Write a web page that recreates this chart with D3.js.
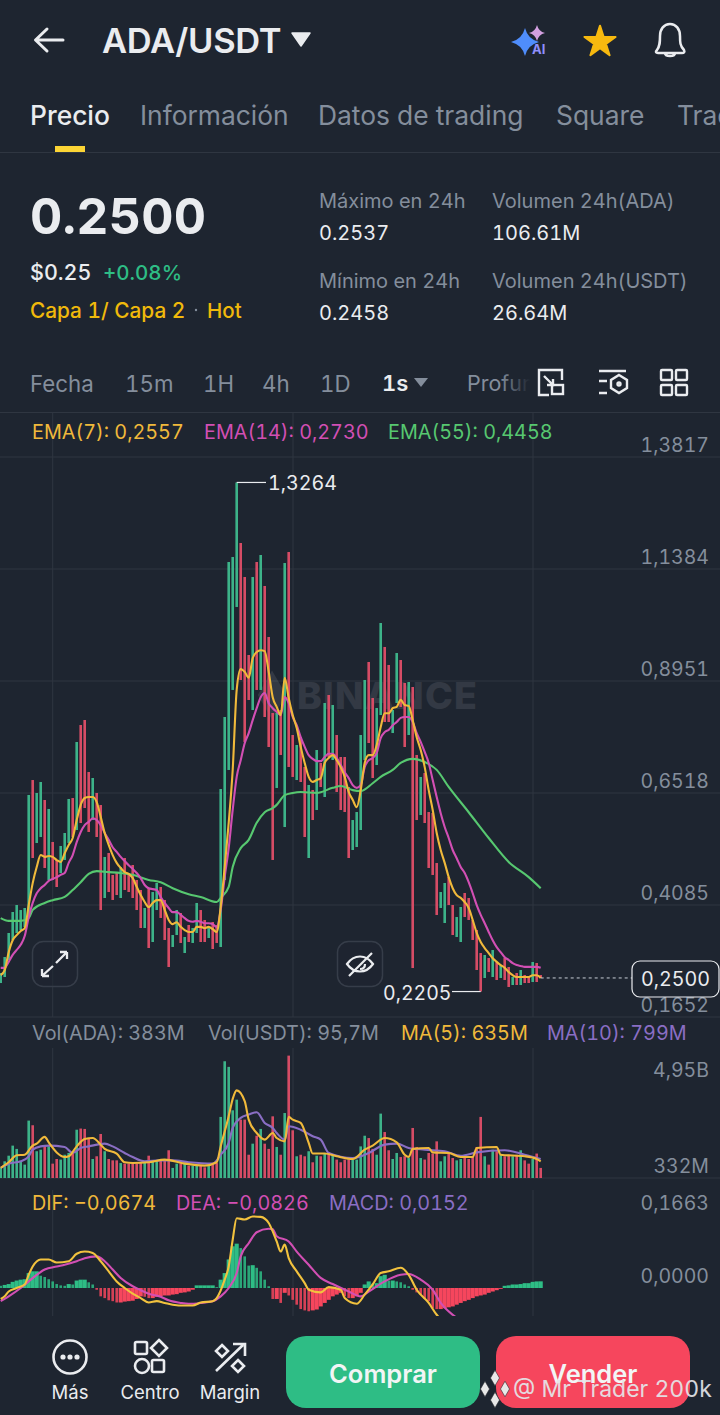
<!DOCTYPE html>
<html><head><meta charset="utf-8">
<script src="https://cdn.jsdelivr.net/npm/d3@7"></script>
<style>
html,body{margin:0;padding:0;background:#1e2530;width:720px;height:1415px;overflow:hidden}
svg{display:block}
text{font-family:Inter,"Noto Sans",sans-serif;font-variant-numeric:tabular-nums}
</style></head><body>
<script>
// ---------- DATA ----------
const priceTicks=[1.3817,1.1384,0.8951,0.6518,0.4085,0.1652];
const volTicks=[4.95,0.332];
const macdTicks=[0.1663,0];
const candleUp=[1,1,1,1,1,1,1,1,0,1,1,0,1,0,0,1,1,1,0,1,0,0,0,1,0,0,1,0,0,0,1,0,0,0,0,0,1,0,1,1,0,0,0,1,1,0,1,0,1,1,0,0,1,0,0,1,1,1,1,1,0,0,0,1,0,1,0,0,0,1,0,1,0,0,1,0,0,1,0,1,0,1,0,1,0,0,0,0,1,1,1,1,0,0,1,1,0,0,1,1,0,0,1,0,0,1,0,0,0,0,1,1,0,0,1,1,0,0,0,0,0,1,0,1,0,1,0,0,1,0,1,0,0,1,0,0];
const candleHigh=[.2608,.2955,.3477,.3933,.4085,.3976,.4020,.6475,.6800,.6518,.6757,.6366,.6171,.5454,.5063,.5367,.5649,.6388,.6409,.7626,.7995,.8104,.6974,.6844,.6518,.6257,.5128,.5215,.4737,.4780,.4911,.5106,.4737,.4954,.4628,.4411,.4020,.4454,.4367,.4563,.4476,.4194,.3585,.3433,.3976,.3911,.3390,.3651,.3585,.4129,.3976,.3759,.3585,.3716,.3651,.6605,.8169,1.1536,1.1645,1.3264,1.1949,1.1210,.9516,1.1210,1.1536,1.1688,1.1015,.9907,.8256,.8256,.8321,1.1514,1.1753,.7778,.7561,.7735,.7083,.6692,.6583,.7452,.7170,.8473,.8647,.8430,.7778,.7300,.7300,.6648,.5931,.6105,.7778,.8973,.9364,.8582,.8365,1.0211,.9690,.9299,.8321,.9559,.9407,.8908,.8929,.8821,.7344,.6866,.6952,.6105,.6084,.4997,.4367,.4563,.4693,.4085,.3824,.4042,.4346,.4237,.3759,.3542,.3042,.2999,.2934,.3107,.2847,.2782,.2934,.2738,.2521,.2608,.2673,.2564,.2521,.2847,.2825,.2564];
const candleLow=[.2390,.2521,.2890,.3325,.3477,.3542,.3607,.3824,.5106,.5432,.5562,.4889,.4628,.4628,.4476,.4780,.5063,.5432,.5562,.5714,.5866,.6192,.5671,.5931,.5562,.3976,.4237,.4367,.4194,.4302,.4237,.4411,.4367,.4237,.3976,.3585,.3585,.3151,.3281,.3976,.3803,.3325,.2738,.3173,.3433,.3260,.3042,.3281,.3260,.3477,.3281,.3281,.3368,.3129,.3260,.3173,.4628,.7018,.8756,1.0559,.8973,.7626,.8538,.8321,.8756,.8756,.8169,.7517,.5063,.6627,.7344,.5779,.7083,.6866,.6800,.6757,.5562,.5106,.5931,.6149,.6648,.6431,.7300,.7235,.6540,.6149,.6105,.5106,.5280,.5345,.5714,.7235,.7604,.6844,.7126,.8212,.8060,.8060,.7821,.8473,.8386,.7517,.7778,.2716,.5931,.6040,.5866,.4889,.4737,.3868,.4020,.3694,.4085,.3433,.3390,.3281,.3824,.3759,.3325,.2673,.2205,.2499,.2630,.2521,.2456,.2499,.2456,.2304,.2347,.2347,.2347,.2390,.2390,.2412,.2412,.2499];
const ema7=[.256,.267,.306,.332,.343,.352,.358,.408,.456,.491,.517,.513,.515,.513,.506,.502,.521,.539,.554,.593,.626,.641,.643,.643,.632,.600,.565,.539,.517,.500,.489,.480,.476,.467,.448,.430,.415,.404,.413,.419,.419,.398,.376,.367,.371,.361,.354,.350,.350,.361,.361,.358,.361,.356,.350,.404,.491,.587,.702,.876,.921,.915,.902,.945,.958,.962,.960,.915,.860,.839,.821,.902,.858,.821,.793,.752,.717,.687,.676,.680,.684,.717,.728,.734,.723,.708,.687,.654,.637,.621,.658,.717,.734,.734,.756,.795,.825,.825,.836,.839,.854,.843,.841,.810,.773,.745,.708,.658,.615,.565,.528,.500,.469,.445,.430,.424,.415,.402,.376,.348,.328,.315,.304,.293,.285,.278,.272,.263,.256,.252,.252,.252,.252,.256,.256,.250];
const ema14=[.272,.272,.285,.300,.311,.322,.341,.382,.413,.434,.445,.452,.461,.465,.469,.474,.478,.500,.517,.545,.567,.582,.589,.597,.593,.582,.565,.550,.534,.524,.513,.504,.495,.487,.478,.467,.452,.445,.443,.441,.426,.413,.402,.393,.393,.387,.380,.374,.372,.374,.372,.369,.369,.367,.361,.398,.469,.532,.615,.687,.723,.760,.782,.810,.836,.860,.869,.847,.836,.828,.821,.860,.847,.817,.799,.773,.752,.734,.726,.721,.721,.730,.737,.737,.728,.713,.697,.684,.669,.663,.669,.708,.723,.728,.739,.771,.784,.789,.799,.806,.815,.817,.817,.806,.782,.763,.741,.717,.680,.643,.608,.578,.554,.528,.510,.491,.478,.458,.434,.408,.387,.369,.350,.332,.317,.306,.295,.289,.282,.278,.276,.274,.274,.274,.274,.272];
const ema55Idx=[0,2,5,7,8,11,13,16,18,20,22,24,27,30,33,37,40,43,47,50,54,55,57,58,60,62,64,66,68,69,71,73,75,79,83,85,88,90,93,95,98,100,103,106,109,112,117,122,127,132,135];
const ema55=[.380,.374,.374,.380,.398,.413,.419,.426,.441,.458,.476,.482,.480,.478,.474,.463,.458,.445,.432,.426,.415,.424,.448,.491,.532,.550,.587,.610,.619,.626,.647,.652,.654,.652,.663,.667,.658,.656,.673,.687,.702,.717,.726,.719,.702,.665,.610,.554,.502,.469,.445];
const volume=[.52,.86,1.15,1.67,1.50,.86,.69,2.96,2.72,1.38,1.46,1.67,1.63,.74,.98,.95,1.20,1.29,1.29,2.49,2.55,2.53,2.06,.98,1.12,2.27,1.38,.98,.91,.91,.77,.74,.74,.74,.74,.77,.81,1.15,.91,.91,.98,.91,1.43,.52,.74,.74,.81,.64,.64,.64,.64,.55,.64,.77,.77,3.15,6.02,5.73,3.49,4.04,3.01,3.01,1.20,1.77,2.18,2.53,1.77,1.50,3.18,1.60,1.20,3.35,6.31,2.46,1.12,1.20,1.12,1.38,.81,1.15,1.12,1.29,1.32,1.20,.95,.81,.95,.95,.95,.95,1.63,2.18,2.06,1.50,1.20,3.32,2.37,1.43,.98,1.29,1.08,1.12,1.03,2.58,1.60,1.03,.95,1.29,1.26,1.89,.86,1.12,1.26,1.03,.91,.98,1.03,.98,1.12,1.60,3.15,1.12,.69,1.46,1.38,1.20,1.12,1.20,1.12,1.20,1.43,.91,.74,.98,1.26,.52];
const ma5Idx=[0,2,4,6,8,9,11,12,14,16,17,19,21,23,25,26,29,31,33,37,41,46,51,54,55,57,58,59,61,62,64,66,68,69,71,72,73,75,77,78,81,84,88,91,93,96,99,101,102,103,107,108,112,115,118,119,124,125,131,134,135];
const ma5=[.52,.81,1.17,1.20,1.67,1.77,2.12,1.84,1.32,1.08,1.12,1.63,2.01,2.06,1.72,1.50,1.26,.81,.77,.81,.95,.74,.64,.81,1.63,3.18,4.08,4.52,3.96,3.01,2.32,1.98,2.32,2.06,1.89,3.15,3.01,2.84,1.81,1.26,1.26,1.12,.98,1.46,1.67,2.06,1.84,1.20,1.08,1.50,1.55,1.32,1.29,1.08,1.08,1.55,1.60,1.20,1.12,.98,.86];
const ma10Idx=[0,2,5,7,8,10,12,16,18,20,22,26,28,31,33,36,40,43,47,53,55,57,58,60,62,64,66,68,69,71,72,75,78,80,82,88,92,96,99,102,106,111,115,119,126,131,135];
const ma10=[.52,.74,.86,1.12,1.46,1.63,1.67,1.60,1.29,1.55,1.63,1.77,1.63,1.29,1.08,.86,.91,.91,.81,.74,1.20,1.81,2.58,3.10,3.27,3.39,2.84,2.58,2.32,1.98,2.67,2.49,2.15,1.98,1.29,1.03,1.29,1.72,1.77,1.55,1.46,1.38,1.15,1.32,1.43,1.20,.98];
const macdHist=[.005,.007,.009,.014,.017,.019,.020,.034,.038,.038,.028,.025,.020,.015,.009,.006,.005,.009,.008,.017,.019,.019,.013,.008,-.004,-.019,-.023,-.028,-.030,-.033,-.033,-.031,-.030,-.029,-.025,-.019,-.020,-.023,-.023,-.020,-.019,-.017,-.017,-.015,-.014,-.011,-.010,-.008,-.004,.006,.006,.006,.006,.006,.002,.019,.034,.065,.095,.101,.091,.072,.051,.052,.046,.038,.019,.004,-.025,-.025,-.034,-.011,-.017,-.027,-.038,-.048,-.051,-.053,-.051,-.049,-.042,-.034,-.027,-.019,-.015,-.011,-.019,-.023,-.023,-.019,-.011,.008,.015,.010,.011,.027,.030,.017,.017,.015,.013,.008,.004,-.004,-.010,-.015,-.025,-.030,-.046,-.048,-.048,-.046,-.044,-.042,-.038,-.034,-.030,-.027,-.023,-.019,-.017,-.015,-.011,-.008,-.005,-.002,.005,.006,.008,.008,.009,.011,.011,.014,.015,.0152];
const difIdx=[0,1,2,4,6,7,8,10,12,14,17,19,21,23,25,27,29,31,33,35,37,39,41,43,46,48,50,53,54,56,57,58,59,61,63,65,67,68,69,70,71,72,74,76,77,80,82,85,86,89,91,93,95,97,100,102,104,107,109,112,125,135];
const dif=[-.025,-.019,-.008,0,.008,.030,.049,.065,.065,.058,.061,.078,.083,.080,.061,.038,.015,0,-.013,-.023,-.033,-.030,-.034,-.038,-.040,-.040,-.033,-.030,-.023,.019,.049,.110,.159,.156,.163,.162,.148,.129,.106,.083,.099,.068,.038,.011,-.004,-.010,.002,-.004,-.023,-.036,-.015,.008,.034,.038,.046,.030,-.004,-.034,-.061,-.085,-.095,-.0674];
const deaIdx=[0,2,5,7,9,11,14,16,19,21,24,26,28,30,33,35,37,40,42,45,47,50,53,55,57,59,60,62,64,67,68,69,72,74,77,80,83,87,90,92,96,100,102,105,108,110,113,116,125,135];
const dea=[-.030,-.019,0,.015,.030,.042,.049,.053,.061,.068,.072,.061,.042,.023,.004,-.005,-.013,-.020,-.028,-.034,-.036,-.034,-.030,-.019,0,.034,.072,.102,.127,.135,.134,.118,.106,.083,.053,.023,.009,-.008,-.019,-.008,.015,.030,.032,.019,-.004,-.034,-.061,-.078,-.095,-.0826];
const priceMax=1.3264, priceMin=0.2205, priceLast=0.25;

// ---------- PALETTE ----------
const BG="#1e2530",GRID="#2f3641",GREY="#848e9c",WHITE="#eaecef",
 UP="#3db389",DOWN="#d64c65",UPB="#2ebd85",DOWNB="#f6465d",YEL="#f0b93b",PINK="#d24fb4",GRN="#57c870",PUR="#8a6ec4";

const svg=d3.select("body").append("svg").attr("width",720).attr("height",1415).attr("viewBox","0 0 720 1415");
const txt=(x,y,s,size,fill,o={})=>{const t=svg.append("text").attr("x",x).attr("y",y).attr("dominant-baseline","central").attr("font-size",size).attr("fill",fill).attr("font-weight",o.w||400).attr("text-anchor",o.a||"start").text(s);if(o.ls)t.attr("letter-spacing",o.ls);if(o.op)t.attr("opacity",o.op);return t;};

const defs=svg.append("defs");
const fade=defs.append("linearGradient").attr("id","fade");
fade.append("stop").attr("offset",0).attr("stop-color",BG).attr("stop-opacity",0);
fade.append("stop").attr("offset",1).attr("stop-color",BG).attr("stop-opacity",1);
defs.append("clipPath").attr("id","clipMacd").append("rect").attr("x",0).attr("y",1190).attr("width",720).attr("height",126);
defs.append("clipPath").attr("id","clipVol").append("rect").attr("x",0).attr("y",1040).attr("width",720).attr("height",138);
svg.append("rect").attr("width",720).attr("height",1415).attr("fill",BG);

// ---------- SCALES ----------
const x=d3.scaleLinear().domain([0,135]).range([0.7,540.7]);
const yP=d3.scaleLinear().domain([1.3817,0.1652]).range([457,1017]);
const yV=d3.scaleLinear().domain([0,4.95]).range([1178,1082]);
const yVAxis=d3.scaleLinear().domain([0.332,4.95]).range([1178,1082]);
const yM=d3.scaleLinear().domain([0,0.1663]).range([1288,1215]);

// ---------- HEADER ----------
svg.append("path").attr("d","M63 40H36M47 29L35.5 40L47 51").attr("fill","none").attr("stroke",WHITE).attr("stroke-width",3).attr("stroke-linecap","round").attr("stroke-linejoin","round");
txt(102,40,"ADA/USDT",34.5,WHITE,{w:600,ls:-0.3});
svg.append("path").attr("d","M292 33H310L301 46Z").attr("fill",WHITE).attr("stroke",WHITE).attr("stroke-linejoin","round").attr("stroke-width",1.5);
const star4=(cx,cy,r,f)=>svg.append("path").attr("d",`M${cx} ${cy-r}Q${cx+r*.2} ${cy-r*.2} ${cx+r} ${cy}Q${cx+r*.2} ${cy+r*.2} ${cx} ${cy+r}Q${cx-r*.2} ${cy+r*.2} ${cx-r} ${cy}Q${cx-r*.2} ${cy-r*.2} ${cx} ${cy-r}Z`).attr("fill",f);
star4(525,42,14,"#4f8dfb");star4(537,33,8,"#d3a0e0");
txt(532,49,"AI",13,"#8f8ffb",{w:700});
svg.append("path").attr("d",d3.symbol(d3.symbolStar,300)()).attr("transform","translate(600,42)").attr("fill","#f7b90f").attr("stroke","#f7b90f").attr("stroke-width",2).attr("stroke-linejoin","round");
svg.append("path").attr("d","M657 50C660 46 660 42 660 36C660 29 664 24 670 24C676 24 680 29 680 36C680 42 680 46 684 50C685 52 684 53 682 53H658C656 53 655 52 657 50ZM665 53C665 57 675 57 675 53").attr("fill","none").attr("stroke",WHITE).attr("stroke-width",2.5).attr("stroke-linejoin","round");

const tabs=[["Precio",30,WHITE,500],["Información",140,GREY,400],["Datos de trading",318,GREY,400],["Square",556,GREY,400],["Trading",677,GREY,400]];
tabs.forEach(t=>txt(t[1],115,t[0],26.4,t[2],{w:t[3]}));
svg.append("rect").attr("x",55).attr("y",146).attr("width",30).attr("height",6).attr("fill","#fcd535");
svg.append("rect").attr("x",0).attr("y",152).attr("width",720).attr("height",1).attr("fill",GRID);

txt(30,216,"0.2500",50,WHITE,{w:700,ls:0.2});
txt(30,272,"$0.25",21.5,WHITE,{w:500});
txt(103,272,"+0.08%",20.5,UPB,{w:500});
txt(30,310,"Capa 1/ Capa 2",20.8,"#f0b90b",{w:500});
svg.append("circle").attr("cx",196).attr("cy",310).attr("r",1.2).attr("fill",GREY);
txt(207,310,"Hot",20.5,"#f0b90b",{w:500});
[["Máximo en 24h",319,201,GREY],["0.2537",319,233,WHITE],["Volumen 24h(ADA)",492,201,GREY],["106.61M",492,233,WHITE],["Mínimo en 24h",319,281,GREY],["0.2458",319,313,WHITE],["Volumen 24h(USDT)",492,281,GREY],["26.64M",492,313,WHITE]].forEach(d=>txt(d[1],d[2],d[0],20,d[3]));

[["Fecha",30],["15m",125],["1H",203],["4h",262],["1D",320]].forEach(d=>txt(d[1],383,d[0],22.3,GREY));
txt(382,383,"1s",22,WHITE,{w:600});
svg.append("path").attr("d","M414 378H428L421 387Z").attr("fill",GREY);
txt(467,383,"Profundidad",21.5,GREY);
svg.append("rect").attr("x",500).attr("y",365).attr("width",30).attr("height",36).attr("fill","url(#fade)");
svg.append("rect").attr("x",530).attr("y",365).attr("width",190).attr("height",36).attr("fill",BG);
const ico=svg.append("g").attr("fill","none").attr("stroke",WHITE).attr("stroke-width",2.4);
ico.append("path").attr("d","M549 395H539V370H562V380M544 376L553 385M553 379V385H547");
ico.append("rect").attr("x",552).attr("y",385).attr("width",11).attr("height",9);
ico.append("path").attr("d","M599 371H626M599 381H607M599 393H607M619 375L627 380V388L619 393L611 388V380Z");
ico.append("circle").attr("cx",619).attr("cy",384).attr("r",1.5);
[[661,370],[676,370],[661,385],[676,385]].forEach(p=>ico.append("rect").attr("x",p[0]).attr("y",p[1]).attr("width",11).attr("height",10).attr("rx",1));

// ---------- GRID ----------
const g=svg.append("g").attr("stroke",GRID).attr("stroke-width",1);
svg.append("rect").attr("x",0).attr("y",412).attr("width",720).attr("height",1).attr("fill",GRID);
priceTicks.forEach(t=>g.append("line").attr("x1",0).attr("x2",720).attr("y1",yP(t)).attr("y2",yP(t)));
g.append("line").attr("x1",0).attr("x2",720).attr("y1",yV(0)).attr("y2",yV(0));
[52.7,293,533].forEach(v=>{[[412,1017],[1048,1178],[1190,1316]].forEach(s=>g.append("line").attr("x1",v).attr("x2",v).attr("y1",s[0]).attr("y2",s[1]));});

// ---------- WATERMARK ----------
const wm=svg.append("g").attr("opacity",.1);
wm.append("path").attr("d",d3.symbol(d3.symbolDiamond,700)()).attr("transform","translate(272,695)").attr("fill",WHITE);
wm.append("text").attr("x",297).attr("y",695).attr("dominant-baseline","central").attr("font-size",37.5).attr("font-weight",800).attr("letter-spacing",1.2).attr("fill",WHITE).text("BINANCE");

// ---------- CANDLES ----------
const idx=d3.range(candleUp.length);
svg.append("g").selectAll("rect").data(idx).join("rect")
 .attr("x",i=>x(i)-1.3).attr("width",2.6)
 .attr("y",i=>yP(candleHigh[i])).attr("height",i=>yP(candleLow[i])-yP(candleHigh[i]))
 .attr("fill",i=>candleUp[i]?UP:DOWN);

const drawLine=(xs,vals,sc,col,clip,sw)=>{
 const l=d3.line().x(d=>x(d[0])).y(d=>sc(d[1])).curve(d3.curveMonotoneX);
 const p=svg.append("path").attr("d",l(xs.map((v,i)=>[v,vals[i]]))).attr("fill","none").attr("stroke",col).attr("stroke-width",sw||2.1).attr("stroke-linejoin","round");
 if(clip)p.attr("clip-path",`url(#${clip})`);
 return p;
};
drawLine(ema55Idx,ema55,yP,GRN);
drawLine(d3.range(ema14.length),ema14,yP,PINK);
drawLine(d3.range(ema7.length),ema7,yP,YEL);

// ---------- VOLUME ----------
svg.append("g").selectAll("rect").data(idx).join("rect")
 .attr("x",i=>x(i)-1.3).attr("width",2.6)
 .attr("y",i=>yV(volume[i])).attr("height",i=>yV(0)-yV(volume[i]))
 .attr("fill",i=>candleUp[i]?UP:DOWN);
drawLine(ma10Idx,ma10,yV,PUR,"clipVol");
drawLine(ma5Idx,ma5,yV,YEL,"clipVol");

// ---------- MACD ----------
svg.append("g").attr("clip-path","url(#clipMacd)").selectAll("rect").data(idx).join("rect")
 .each(function(i){
   const v=macdHist[i],rising=i>0&&v>=macdHist[i-1],w=rising?4.1:2.6;
   d3.select(this).attr("x",x(i)-w/2).attr("width",w)
     .attr("y",Math.min(yM(v),yM(0))).attr("height",Math.abs(yM(v)-yM(0)))
     .attr("fill",v>=0?UPB:DOWNB).attr("opacity",rising?1:.85);
 });
drawLine(deaIdx,dea,yM,PINK,"clipMacd");
drawLine(difIdx,dif,yM,"#f2c23e","clipMacd");

// ---------- AXES ----------
const axisStyle=(sel)=>{
 sel.select(".domain").remove();
 sel.selectAll("line").remove();
 sel.selectAll("text").attr("x",0).attr("dy",-13).attr("dominant-baseline","central").attr("text-anchor","end")
   .attr("fill",GREY).attr("font-size",19.5).attr("font-family",'Inter,"Noto Sans",sans-serif');
};
const comma=d=>d.toFixed(4).replace(".",",");
svg.append("g").attr("transform","translate(709,0)").call(d3.axisRight(yP).tickValues(priceTicks).tickFormat(comma)).call(axisStyle);
svg.append("g").attr("transform","translate(709,0)").call(d3.axisRight(yVAxis).tickValues(volTicks).tickFormat(d=>d>=1?d.toFixed(2).replace(".",",")+"B":Math.round(d*1000)+"M")).call(axisStyle);
svg.append("g").attr("transform","translate(709,0)").call(d3.axisRight(yM).tickValues(macdTicks).tickFormat(comma)).call(axisStyle);

// ---------- LEGENDS ----------
[["EMA(7): 0,2557",32,YEL],["EMA(14): 0,2730",204,PINK],["EMA(55): 0,4458",388,GRN]].forEach(d=>txt(d[1],432,d[0],19.8,d[2]));
[["Vol(ADA): 383M",32,GREY],["Vol(USDT): 95,7M",208,GREY],["MA(5): 635M",401,YEL],["MA(10): 799M",547,PUR]].forEach(d=>txt(d[1],1033,d[0],19.8,d[2]));
[["DIF: −0,0674",32,YEL],["DEA: −0,0826",176,PINK],["MACD: 0,0152",329,PUR]].forEach(d=>txt(d[1],1203,d[0],19.8,d[2]));

// ---------- PRICE ANNOTATIONS ----------
const hi=yP(priceMax),lo=yP(priceMin),last=yP(priceLast);
svg.append("path").attr("d",`M${x(59)} ${hi}H266`).attr("stroke",WHITE).attr("stroke-width",1.2).attr("fill","none");
txt(268,483,"1,3264",19.7,WHITE);
svg.append("path").attr("d",`M${x(120)} ${lo}H452`).attr("stroke",WHITE).attr("stroke-width",1.2).attr("fill","none");
txt(383,993,"0,2205",19.5,WHITE);
svg.append("line").attr("x1",x(135)).attr("x2",632).attr("y1",last).attr("y2",last).attr("stroke","#c9ced6").attr("stroke-width",1).attr("stroke-dasharray","3,3");
svg.append("rect").attr("x",632).attr("y",961).attr("width",87).attr("height",36).attr("rx",8).attr("fill",BG).attr("stroke",WHITE).attr("stroke-width",1.2);
txt(675.5,979,"0,2500",19.7,WHITE,{a:"middle"});

// ---------- FLOATING BUTTONS ----------
[[32],[337]].forEach(d=>svg.append("rect").attr("x",d[0]+.5).attr("y",941.5).attr("width",45).attr("height",45).attr("rx",11).attr("fill",BG).attr("fill-opacity",.6).attr("stroke","#363d49").attr("stroke-width",1.5));
svg.append("path").attr("d","M42 976L53 966M42 976V969M42 976H49M67 952L56 963M67 952V959M67 952H60").attr("fill","none").attr("stroke",WHITE).attr("stroke-width",2.3);
svg.append("path").attr("d","M347 964C354 954 366 954 373 964C366 974 354 974 347 964ZM349 976L372 953M360 969C363 969 365 967 365 964").attr("fill","none").attr("stroke",WHITE).attr("stroke-width",2.2);

// ---------- FOOTER ----------
const f=svg.append("g").attr("fill","none").attr("stroke",WHITE).attr("stroke-width",2.6);
f.append("circle").attr("cx",70).attr("cy",1357).attr("r",16.5);
[63,70,77].forEach(v=>f.append("circle").attr("cx",v).attr("cy",1357).attr("r",1.3).attr("fill",WHITE));
f.append("rect").attr("x",135).attr("y",1342).attr("width",12).attr("height",12).attr("rx",1.5);
f.append("path").attr("d","M159 1340L167 1348L159 1356L151 1348Z");
f.append("circle").attr("cx",142).attr("cy",1366).attr("r",7);
f.append("rect").attr("x",152).attr("y",1360).attr("width",12).attr("height",12).attr("rx",1.5);
f.append("path").attr("d","M216 1371L243 1345M233 1344H245V1356M222 1345L228 1351L222 1357L216 1351ZM238 1360L244 1366L238 1372L232 1366Z");
[["Más",70],["Centro",150],["Margin",230]].forEach(d=>txt(d[1],1392,d[0],18.5,WHITE,{a:"middle"}));
svg.append("rect").attr("x",286).attr("y",1336).attr("width",194).attr("height",72).attr("rx",20).attr("fill",UPB);
svg.append("rect").attr("x",496).attr("y",1336).attr("width",194).attr("height",72).attr("rx",20).attr("fill",DOWNB);
txt(383,1373,"Comprar",25.5,"#f2f5f5",{w:600,a:"middle"});
txt(593,1373,"Vender",25.5,"#f2f5f5",{w:600,a:"middle"});
const bl=svg.append("g").attr("fill","#e8e8e8").attr("stroke","#2a2d33").attr("stroke-width",.6);
[[495,1378],[485,1389],[505,1389],[495,1400]].forEach(p=>bl.append("path").attr("d",d3.symbol(d3.symbolDiamond,70)()).attr("transform",`translate(${p[0]},${p[1]})`));
txt(513,1389,"@ Mr Trader 200k",23,"#e4e6ea",{op:.92});
</script>
</body></html>
